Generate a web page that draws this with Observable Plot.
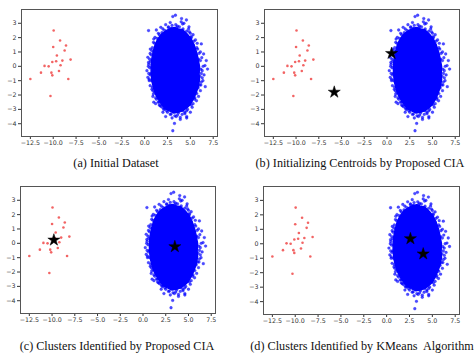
<!DOCTYPE html>
<html>
<head>
<meta charset="utf-8">
<script src="https://cdn.jsdelivr.net/npm/d3@7"></script>
<script src="https://cdn.jsdelivr.net/npm/@observablehq/plot@0.6"></script>
<style>
  html, body { margin: 0; padding: 0; background: #fff; }
  #fig { position: relative; width: 474px; height: 353px; overflow: hidden; background: #fff; }
  .panel { position: absolute; }
  .cap { position: absolute; font-family: "Liberation Serif", "Times New Roman", serif; font-size: 12.2px; line-height: 14px; color: #111; white-space: pre; text-align: center; width: 300px; }
</style>
</head>
<body>
<div id="fig"></div>
<script>
// ---------- data ----------
const xTicks = [-12.5, -10.0, -7.5, -5.0, -2.5, 0.0, 2.5, 5.0, 7.5];
const yTicks = [-4, -3, -2, -1, 0, 1, 2, 3];

// small (red) cluster
const redX = [-9.95, -9.25, -10.0, -8.6, -8.75, -9.6, -8.1, -9.0, -9.68, -10.1, -9.2, -10.95, -10.5, -9.37, -11.34, -10.2, -10.1, -12.5, -8.35, -10.3];
const redY = [2.5, 1.8, 1.35, 1.45, 1.1, 0.75, 0.47, 0.4, 0.35, 0.3, 0.07, 0.03, 0.0, -0.33, -0.44, -0.44, -0.63, -0.88, -0.88, -2.07];

// large (blue) cluster: dense core outline + scattered fringe points
const coreX = [3.3, 3.7, 4.15, 4.65, 5.1, 5.4, 5.7, 5.85, 6.0, 5.95, 6.0, 5.85, 5.6, 5.3, 5.0, 4.6, 4.15, 3.65, 3.2, 2.7, 2.25, 1.85, 1.5, 1.2, 1.0, 0.8, 0.72, 0.7, 0.78, 0.95, 1.15, 1.45, 1.85, 2.4, 2.85];
const coreY = [2.7, 2.6, 2.55, 2.25, 1.9, 1.5, 0.95, 0.5, 0.0, -0.5, -0.95, -1.45, -1.9, -2.3, -2.65, -2.9, -3.1, -3.2, -3.25, -3.1, -2.95, -2.65, -2.3, -1.95, -1.55, -1.05, -0.5, 0.0, 0.5, 1.05, 1.5, 1.9, 2.25, 2.5, 2.65];
const blueX = [3.37, 3.08, 2.8, 4.04, 4.57, 4.3, 0.43, 1.28, 1.77, 2.3, 4.15, 4.8, 5.1, 5.56, 6.2, 5.8, 6.45, 6.74, 6.6, 6.88, 6.2, 6.38, 6.63, 6.1, 5.9, 5.67, 5.2, 4.7, 4.15, 3.9, 3.6, 3.26, 3.08, 2.9, 2.5, 2.2, 1.8, 1.49, 1.2, 0.96, 0.8, 0.6, 0.5, 0.35, 0.25, 0.4, 0.43, 0.35, 0.6, 0.78, 0.96, 1.13, 1.5, 2.0, 3.6, 5.3, 5.9, 6.0, 5.3, 4.4, 3.0, 1.6, 0.7, 0.55, 1.0, 2.6, 4.9, 5.5, 6.1, 6.3, 2.1, 1.4, 0.9, 3.9, 4.6, 5.7,
  2.6, 3.0, 3.4, 3.8, 4.2, 2.2, 1.9, 4.6, 5.1, 5.4, 5.7, 5.95, 6.1, 6.15, 6.05, 6.2, 5.85, 5.7, 5.45, 5.1, 4.6, 4.1, 3.7, 3.3, 2.8, 2.4, 2.0, 1.6, 1.3, 1.1, 0.85, 0.75, 0.6, 0.55, 0.65, 0.7, 0.85, 1.1, 1.35, 1.6, 0.9, 1.0, 5.6, 5.9, 5.3, 0.45, 6.4, 6.5, 5.0, 2.0, 4.0, 2.3, 4.6, 3.5, 2.9, 4.4, 1.7, 5.0, 1.2,
  6.25, 6.3, 6.15, 0.5, 0.45, 0.62, 5.75, 1.0, 3.45, 4.85];
const blueY = [3.56, 3.47, 3.05, 3.33, 3.23, 3.0, 2.49, 2.53, 2.72, 2.9, 2.95, 2.6, 2.07, 1.84, 1.56, 1.2, 0.86, 0.4, 0.05, -0.19, -0.5, -1.0, -1.42, -1.7, -2.1, -2.4, -2.86, -3.0, -3.09, -3.56, -3.4, -3.98, -4.49, -3.33, -3.2, -2.98, -2.8, -2.5, -2.2, -1.93, -1.6, -1.35, -1.0, -0.77, -0.3, 0.0, 0.28, 0.63, 0.9, 1.1, 1.67, 2.02, 2.3, 2.6, 2.8, 1.5, 0.5, -1.3, -2.6, -3.3, -3.6, -2.7, -0.5, 0.5, 1.9, 2.7, 2.4, -2.2, 1.0, -0.8, -3.0, 1.7, -1.7, -3.7, -3.5, 0.2,
  2.75, 2.85, 2.9, 2.75, 2.6, 2.5, 2.35, 2.45, 2.0, 1.75, 1.3, 0.9, 0.4, -0.2, -0.7, -1.1, -1.5, -1.9, -2.3, -2.7, -3.1, -3.35, -3.25, -3.45, -3.35, -3.1, -2.9, -2.5, -2.3, -1.8, -1.45, -1.0, -0.6, -0.1, 0.35, 0.8, 1.3, 1.6, 1.95, 2.2, -2.1, 1.0, 0.0, -0.4, 2.2, -0.5, 0.0, -0.6, -3.2, -3.2, 3.1, -3.5, -3.6, 2.7, 2.65, -3.2, -2.75, 2.3, -2.6,
  0.6, -0.3, -1.3, -0.9, 0.15, 1.2, 1.6, -2.5, -3.5, 2.75];

// centroid stars per panel
const starsA = [];
const starsBX = [-5.8, 0.5],  starsBY = [-1.8, 0.9];
const starsCX = [-9.8, 3.5],  starsCY = [0.23, -0.23];
const starsDX = [2.6, 4.0],   starsDY = [0.35, -0.7];

const captions = [
  "(a) Initial Dataset",
  "(b) Initializing Centroids by Proposed CIA",
  "(c) Clusters Identified by Proposed CIA",
  "(d) Clusters Identified by KMeans  Algorithm"
];

// ---------- build tables ----------
const red = redX.map((x, i) => ({x, y: redY[i]}));
const core = coreX.map((x, i) => ({x, y: coreY[i]}));
const blue = blueX.map((x, i) => ({x, y: blueY[i]}));
const mk = (xs, ys) => xs.map((x, i) => ({x, y: ys[i]}));
const starSets = [starsA, mk(starsBX, starsBY), mk(starsCX, starsCY), mk(starsDX, starsDY)];

// ---------- layout ----------
const layout = [
  {left: 0,   top: 0,   fL: 21,  fR: 217, fT: 9,   fB: 136, capX: 116, capY: 156},
  {left: 237, top: 0,   fL: 264, fR: 459, fT: 9,   fB: 136, capX: 360, capY: 156},
  {left: 0,   top: 176, fL: 20,  fR: 215, fT: 186, fB: 313, capX: 117, capY: 339},
  {left: 237, top: 176, fL: 263, fR: 459, fT: 186, fB: 314, capX: 362, capY: 339}
];
const W = 237, H = 160;
const fmt = d3.format(".1f");
const fig = document.getElementById("fig");

layout.forEach((L, k) => {
  const chart = Plot.plot({
    width: W, height: H,
    marginLeft: L.fL - L.left,
    marginRight: L.left + W - L.fR,
    marginTop: L.fT - L.top,
    marginBottom: L.top + H - L.fB,
    style: {fontFamily: "DejaVu Sans, sans-serif", fontSize: "6.3px", color: "#333", background: "transparent"},
    x: {domain: [-13.47, 7.97], ticks: xTicks, tickFormat: fmt, tickSize: 3, tickPadding: 1.5, label: null},
    y: {domain: [-4.89, 3.96], ticks: yTicks, tickFormat: d3.format("d"), tickSize: 3, tickPadding: 2, label: null},
    marks: [
      Plot.dot(red, {x: "x", y: "y", r: 1.3, fill: "#ee3030", fillOpacity: 0.75, stroke: "none"}),
      Plot.line(core, {x: "x", y: "y", curve: "linear-closed", fill: "#0000ff", stroke: "#0000ff", strokeWidth: 1.5}),
      Plot.dot(blue, {x: "x", y: "y", r: 1.4, fill: "#0000ff", fillOpacity: 0.7, stroke: "#0000ff", strokeOpacity: 0.6, strokeWidth: 0.4}),
      Plot.dot(starSets[k], {x: "x", y: "y", symbol: "star", r: 3.8, fill: "#000", stroke: "#000", strokeWidth: 0.5}),
      Plot.frame({stroke: "#555", strokeWidth: 1})
    ]
  });
  chart.classList.add("panel");
  chart.style.left = L.left + "px";
  chart.style.top = L.top + "px";
  fig.appendChild(chart);

  const cap = document.createElement("div");
  cap.className = "cap";
  cap.textContent = captions[k];
  cap.style.left = (L.capX - 150) + "px";
  cap.style.top = L.capY + "px";
  fig.appendChild(cap);
});
</script>
</body>
</html>
